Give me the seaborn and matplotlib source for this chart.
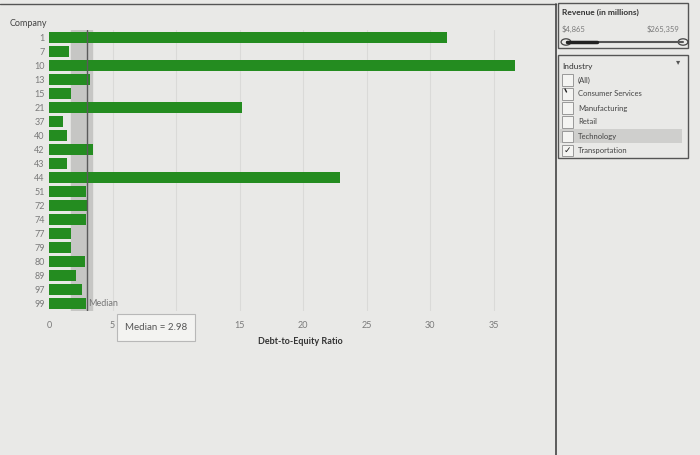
import matplotlib
matplotlib.use("Agg")
import matplotlib.pyplot as plt
import seaborn as sns
import pandas as pd
from matplotlib.patches import Rectangle, Circle
from matplotlib.lines import Line2D

# data
companies = ["1", "7", "10", "13", "15", "21", "37", "40", "42", "43",
             "44", "51", "72", "74", "77", "79", "80", "89", "97", "99"]
debt_to_equity = [31.3, 1.6, 36.7, 3.2, 1.7, 15.2, 1.1, 1.4, 3.5, 1.4,
                  22.9, 2.9, 3.1, 2.9, 1.7, 1.7, 2.8, 2.1, 2.6, 2.9]
median_value = 2.98
band_low, band_high = 1.7, 3.4
x_ticks = [0, 5, 10, 15, 20, 25, 30, 35]
# the tick under the tooltip is hidden in the picture
x_tick_labels = ["0", "5", "", "15", "20", "25", "30", "35"]
industries = ["(All)", "Consumer Services", "Manufacturing", "Retail",
              "Technology", "Transportation"]
revenue_min, revenue_max = "$4,865", "$265,359"

bg = "#e9e9e7"
green = "#248c20"
txt = "#7a7a7a"

sns.set_style("white")
plt.rcParams["font.family"] = ["Lato", "DejaVu Sans"]

df = pd.DataFrame({"Company": companies, "Ratio": debt_to_equity})

fig = plt.figure(figsize=(7, 4.55), dpi=100, facecolor=bg)
W, H = 700, 455


def fx(px):
    return px / W


def fy(py):
    return 1 - py / H


ax = fig.add_axes([fx(49), fy(311), fx(489), fy(30) - fy(311)])
ax.set_facecolor(bg)

ax.axvspan(band_low, band_high, color="#c6c6c4", zorder=0)
sns.barplot(data=df, x="Ratio", y="Company", orient="h", color=green,
            width=0.78, saturation=1, linewidth=0, edgecolor="none",
            ax=ax, zorder=2)
ax.axvline(median_value, color="#5a5a5a", lw=1, zorder=3)

ax.set_xlim(0, 38.5)
ax.set_xticks(x_ticks)
ax.set_xticklabels(x_tick_labels)
ax.tick_params(axis="both", length=0, labelsize=6.5, labelcolor=txt)
ax.tick_params(axis="x", pad=7)
ax.tick_params(axis="y", pad=3)
for t in x_ticks[1:]:
    ax.axvline(t, color="#dadad8", lw=0.8, zorder=1)
for s in ax.spines.values():
    s.set_visible(False)
ax.set_xlabel("")
ax.set_ylabel("")

ax.text(median_value + 0.1, len(companies) - 1, "Median", fontsize=6.5,
        color="#777777", va="center", ha="left", zorder=4)

fig.text(fx(10), fy(23), "Company", fontsize=6.5, color="#444444", va="center")
fig.text(fx(300), fy(341), "Debt-to-Equity Ratio", fontsize=6.5,
         color="#333333", ha="center", va="center", fontweight="bold")

# tooltip
fig.patches.append(Rectangle((fx(117), fy(341)), fx(78), fy(314) - fy(341),
                             transform=fig.transFigure, facecolor="#f3f3f1",
                             edgecolor="#b8b8b8", lw=0.8, zorder=5))
fig.text(fx(156), fy(327), "Median = 2.98", fontsize=7, color="#555555",
         ha="center", va="center", zorder=6)

# frame lines
fig.lines.append(Line2D([0, fx(556)], [fy(4), fy(4)], transform=fig.transFigure,
                        color="#555555", lw=1))
fig.lines.append(Line2D([fx(556), fx(556)], [fy(4), 0], transform=fig.transFigure,
                        color="#444444", lw=1.2))

# revenue filter card
fig.patches.append(Rectangle((fx(558), fy(48)), fx(130), fy(3) - fy(48),
                             transform=fig.transFigure, facecolor=bg,
                             edgecolor="#555555", lw=1))
fig.text(fx(562), fy(12), "Revenue (in millions)", fontsize=6, color="#333333",
         va="center", fontweight="bold")
fig.text(fx(562), fy(29), revenue_min, fontsize=5.5, color=txt, va="center")
fig.text(fx(679), fy(29), revenue_max, fontsize=5.5, color=txt, va="center",
         ha="right")
fig.lines.append(Line2D([fx(567), fx(683)], [fy(42), fy(42)],
                        transform=fig.transFigure, color="#555555", lw=1.5))
fig.lines.append(Line2D([fx(567), fx(597)], [fy(42), fy(42)],
                        transform=fig.transFigure, color="#222222", lw=2.5))
for cx in (566, 683):
    fig.patches.append(Circle((fx(cx), fy(42)), 0.007,
                              transform=fig.transFigure, facecolor=bg,
                              edgecolor="#444444", lw=0.9))

# industry filter card
fig.patches.append(Rectangle((fx(558), fy(158)), fx(130), fy(55) - fy(158),
                             transform=fig.transFigure, facecolor=bg,
                             edgecolor="#555555", lw=1))
fig.text(fx(562), fy(66), "Industry", fontsize=6, color="#333333", va="center")
fig.text(fx(680), fy(62), "\u25be", fontsize=6, color="#555555", va="center",
         ha="right")
fig.patches.append(Rectangle((fx(560), fy(143)), fx(122), fy(129) - fy(143),
                             transform=fig.transFigure, facecolor="#cfcfcd",
                             edgecolor="none"))
for i, name in enumerate(industries):
    yc = 80 + i * 14
    fig.patches.append(Rectangle((fx(562), fy(yc + 5.5)), fx(11), fy(yc - 5.5) - fy(yc + 5.5),
                                 transform=fig.transFigure, facecolor="#f4f4f2",
                                 edgecolor="#999999", lw=0.7))
    fig.text(fx(578), fy(yc), name, fontsize=5.5, color="#444444", va="center")
fig.text(fx(567.5), fy(150), "\u2713", fontsize=6.5, color="#222222",
         ha="center", va="center", family=["DejaVu Sans"])
fig.lines.append(Line2D([fx(565), fx(566.5)], [fy(89), fy(92)],
                        transform=fig.transFigure, color="#222222", lw=1))

fig.savefig("out.png", dpi=100, facecolor=bg)
